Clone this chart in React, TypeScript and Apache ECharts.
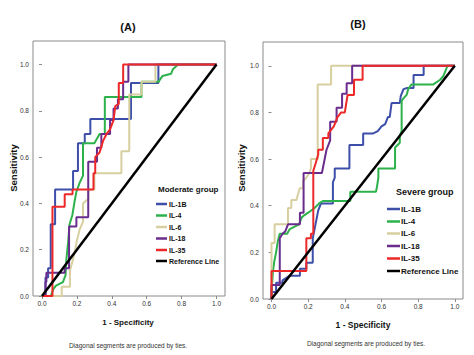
import React, { useEffect, useRef } from "react";
import * as echarts from "echarts";

type Pt = [number, number];

const TICKS = [0, 0.2, 0.4, 0.6, 0.8, 1.0];
const SERIES_NAMES = ["IL-1B", "IL-4", "IL-6", "IL-18", "IL-35", "Reference Line"];
const COLORS = ["#3D4FA9", "#2DB24B", "#D8CFA0", "#6A2D8E", "#ED2828", "#000000"];
const PANEL_TITLES = ["(A)", "(B)"];
const LEGEND_TITLES = ["Moderate group", "Severe group"];
const X_NAME = "1 - Specificity";
const Y_NAME = "Sensitivity";
const FOOTNOTE = "Diagonal segments are produced by ties.";

const modIL1B: Pt[] = [[0,0],[0.02,0],[0.02,0.08],[0.035,0.08],[0.035,0.12],[0.05,0.12],[0.05,0.31],[0.075,0.31],[0.075,0.46],[0.178,0.46],[0.178,0.54],[0.206,0.54],[0.206,0.66],[0.245,0.66],[0.245,0.70],[0.277,0.70],[0.277,0.765],[0.51,0.765],[0.51,0.92],[0.667,0.92],[0.667,1],[1,1]];
const modIL4: Pt[] = [[0,0],[0.05,0],[0.065,0.03],[0.08,0.045],[0.12,0.06],[0.135,0.09],[0.14,0.16],[0.15,0.235],[0.158,0.31],[0.174,0.35],[0.187,0.41],[0.197,0.45],[0.216,0.49],[0.235,0.52],[0.235,0.66],[0.30,0.66],[0.33,0.70],[0.36,0.70],[0.36,0.86],[0.57,0.86],[0.57,0.925],[0.667,0.925],[0.69,0.95],[0.74,0.96],[0.75,0.98],[0.78,1],[1,1]];
const modIL6: Pt[] = [[0,0],[0.113,0],[0.113,0.04],[0.16,0.04],[0.16,0.11],[0.175,0.15],[0.19,0.2],[0.2,0.24],[0.217,0.29],[0.235,0.32],[0.235,0.40],[0.265,0.42],[0.265,0.46],[0.30,0.46],[0.30,0.53],[0.455,0.53],[0.455,0.625],[0.50,0.625],[0.50,0.87],[0.57,0.87],[0.57,0.925],[0.65,0.925],[0.65,1],[1,1]];
const modIL18: Pt[] = [[0,0],[0.02,0],[0.02,0.06],[0.025,0.06],[0.025,0.10],[0.13,0.10],[0.13,0.12],[0.155,0.12],[0.155,0.30],[0.197,0.30],[0.197,0.34],[0.265,0.34],[0.265,0.58],[0.315,0.58],[0.315,0.64],[0.34,0.64],[0.34,0.70],[0.39,0.70],[0.39,0.76],[0.41,0.76],[0.41,0.81],[0.435,0.81],[0.435,0.85],[0.465,0.85],[0.465,0.925],[0.495,0.925],[0.495,1],[1,1]];
const modIL35: Pt[] = [[0,0],[0.06,0],[0.06,0.385],[0.13,0.385],[0.13,0.44],[0.175,0.44],[0.175,0.46],[0.295,0.46],[0.295,0.53],[0.305,0.53],[0.305,0.60],[0.33,0.62],[0.35,0.67],[0.37,0.70],[0.39,0.72],[0.41,0.76],[0.42,0.82],[0.44,0.83],[0.44,0.92],[0.465,0.92],[0.465,1],[1,1]];

const sevIL1B: Pt[] = [[0,0],[0,0.03],[0.025,0.03],[0.025,0.07],[0.06,0.07],[0.06,0.08],[0.10,0.10],[0.155,0.10],[0.155,0.13],[0.19,0.13],[0.19,0.155],[0.225,0.155],[0.225,0.26],[0.24,0.32],[0.255,0.38],[0.27,0.41],[0.335,0.41],[0.335,0.50],[0.345,0.52],[0.345,0.56],[0.425,0.56],[0.425,0.66],[0.50,0.66],[0.50,0.71],[0.555,0.71],[0.58,0.72],[0.60,0.74],[0.62,0.75],[0.635,0.78],[0.645,0.78],[0.655,0.84],[0.70,0.84],[0.705,0.87],[0.72,0.90],[0.74,0.905],[0.775,0.905],[0.775,0.96],[0.83,0.96],[0.83,1],[1,1]];
const sevIL4: Pt[] = [[0,0],[0.003,0.06],[0.008,0.12],[0.015,0.16],[0.025,0.20],[0.035,0.25],[0.045,0.28],[0.085,0.28],[0.10,0.30],[0.15,0.32],[0.165,0.35],[0.18,0.36],[0.20,0.37],[0.235,0.39],[0.26,0.41],[0.28,0.42],[0.43,0.42],[0.43,0.46],[0.57,0.46],[0.575,0.48],[0.583,0.52],[0.583,0.56],[0.674,0.56],[0.674,0.65],[0.70,0.67],[0.70,0.70],[0.71,0.72],[0.71,0.85],[0.72,0.86],[0.737,0.875],[0.746,0.90],[0.764,0.92],[0.883,0.92],[0.92,0.94],[0.937,0.955],[0.955,0.99],[0.96,1],[1,1]];
const sevIL6: Pt[] = [[0,0],[0,0.24],[0.017,0.24],[0.017,0.32],[0.09,0.32],[0.09,0.39],[0.108,0.39],[0.108,0.425],[0.136,0.425],[0.154,0.475],[0.172,0.475],[0.172,0.505],[0.19,0.52],[0.206,0.54],[0.215,0.56],[0.215,0.60],[0.252,0.60],[0.252,0.92],[0.325,0.92],[0.325,1],[1,1]];
const sevIL18: Pt[] = [[0,0],[0,0.06],[0.045,0.06],[0.045,0.26],[0.06,0.28],[0.075,0.29],[0.09,0.32],[0.155,0.32],[0.155,0.37],[0.175,0.37],[0.175,0.54],[0.275,0.54],[0.285,0.58],[0.30,0.64],[0.32,0.68],[0.32,0.76],[0.355,0.76],[0.355,0.82],[0.385,0.82],[0.385,0.88],[0.41,0.88],[0.41,0.925],[0.44,0.925],[0.44,1],[1,1]];
const sevIL35: Pt[] = [[0,0],[0,0.12],[0.19,0.12],[0.19,0.26],[0.215,0.26],[0.215,0.28],[0.228,0.28],[0.228,0.55],[0.24,0.58],[0.255,0.62],[0.255,0.64],[0.28,0.64],[0.28,0.69],[0.31,0.69],[0.31,0.71],[0.34,0.74],[0.36,0.78],[0.38,0.80],[0.40,0.80],[0.41,0.85],[0.415,0.875],[0.45,0.875],[0.45,0.94],[0.497,0.94],[0.497,1],[1,1]];

const referenceLine: Pt[] = [[0,0],[1,1]];

const moderateData = [modIL1B, modIL4, modIL6, modIL18, modIL35, referenceLine];
const severeData = [sevIL1B, sevIL4, sevIL6, sevIL18, sevIL35, referenceLine];

const FONT = "'Liberation Sans', Arial, sans-serif";

export default function App() {
  const ref = useRef<HTMLDivElement>(null);
  useEffect(() => {
    if (!ref.current) return;
    const chart = echarts.init(ref.current, undefined, { renderer: "svg" });

    const grids = [
      { left: 33, top: 41, width: 192, height: 255, xmin: -0.0516, xmax: 1.0487, ymax: 1.1015 },
      { left: 263, top: 42, width: 200, height: 257, xmin: -0.0464, xmax: 1.0447, ymax: 1.102 },
    ];

    const axisCommon = {
      type: "value" as const,
      axisLine: { show: false },
      splitLine: { show: false },
      axisTick: { show: true, length: 3, lineStyle: { color: "#8a8a8a", width: 1 }, customValues: TICKS },
      axisLabel: {
        customValues: TICKS,
        formatter: (v: number) => v.toFixed(1),
        fontSize: 6.5,
        color: "#333",
        fontFamily: FONT,
        margin: 4,
      },
    };

    const series: any[] = [];
    [moderateData, severeData].forEach((panel, gi) => {
      panel.forEach((d, si) => {
        series.push({
          type: "line",
          name: SERIES_NAMES[si],
          xAxisIndex: gi,
          yAxisIndex: gi,
          data: d,
          showSymbol: false,
          symbol: "none",
          lineStyle: { color: COLORS[si], width: si === 5 ? 2.5 : 2 },
          z: 2 + si,
        });
      });
    });

    const graphic: any[] = [];
    const legendPos = [
      { titleX: 158, titleY: 189, lineX0: 156, lineX1: 167, textX: 169, ys: [204, 215.5, 227, 238.5, 250, 261], titleSize: 8, itemSize: 7 },
      { titleX: 396, titleY: 192, lineX0: 387, lineX1: 400, textX: 401, ys: [209, 221.5, 233.5, 246, 258.5, 271], titleSize: 9, itemSize: 8 },
    ];
    const titlePos = [[128, 27], [358, 24]];
    const yNamePos = [[13, 168], [241, 168]];
    const xNamePos = [[128, 322], [363, 325]];
    const xNameSize = [8, 8.5];
    const footPos = [[128, 345], [366, 343]];

    for (let p = 0; p < 2; p++) {
      graphic.push({
        type: "text", x: titlePos[p][0], y: titlePos[p][1],
        style: { text: PANEL_TITLES[p], font: `bold 11px ${FONT}`, fill: "#111", align: "center", verticalAlign: "middle" },
      });
      graphic.push({
        type: "text", x: yNamePos[p][0], y: yNamePos[p][1], rotation: Math.PI / 2,
        style: { text: Y_NAME, font: `bold 9.5px ${FONT}`, fill: "#111", align: "center", verticalAlign: "middle" },
      });
      graphic.push({
        type: "text", x: xNamePos[p][0], y: xNamePos[p][1],
        style: { text: X_NAME, font: `bold ${xNameSize[p]}px ${FONT}`, fill: "#111", align: "center", verticalAlign: "middle" },
      });
      graphic.push({
        type: "text", x: footPos[p][0], y: footPos[p][1],
        style: { text: FOOTNOTE, font: `6.5px ${FONT}`, fill: "#333", align: "center", verticalAlign: "middle" },
      });
      const L = legendPos[p];
      graphic.push({
        type: "text", x: L.titleX, y: L.titleY,
        style: { text: LEGEND_TITLES[p], font: `bold ${L.titleSize}px ${FONT}`, fill: "#111", align: "left", verticalAlign: "middle" },
      });
      SERIES_NAMES.forEach((nm, i) => {
        graphic.push({
          type: "line",
          shape: { x1: L.lineX0, y1: L.ys[i], x2: L.lineX1, y2: L.ys[i] },
          style: { stroke: COLORS[i], lineWidth: 2.5 },
        });
        graphic.push({
          type: "text", x: L.textX, y: L.ys[i],
          style: { text: nm, font: `bold ${L.itemSize}px ${FONT}`, fill: "#111", align: "left", verticalAlign: "middle" },
        });
      });
    }

    chart.setOption({
      animation: false,
      backgroundColor: "#fff",
      grid: grids.map((g) => ({
        left: g.left, top: g.top, width: g.width, height: g.height,
        show: true, borderColor: "#8a8a8a", borderWidth: 1, backgroundColor: "transparent",
      })),
      xAxis: grids.map((g, i) => ({ ...axisCommon, gridIndex: i, min: g.xmin, max: g.xmax })),
      yAxis: grids.map((g, i) => ({ ...axisCommon, gridIndex: i, min: 0, max: g.ymax })),
      series,
      graphic,
    });

    return () => chart.dispose();
  }, []);

  return (
    <div style={{ position: "fixed", left: 0, top: 0, width: 474, height: 355, background: "#fff" }}>
      <div ref={ref} style={{ width: 474, height: 355 }} />
    </div>
  );
}
